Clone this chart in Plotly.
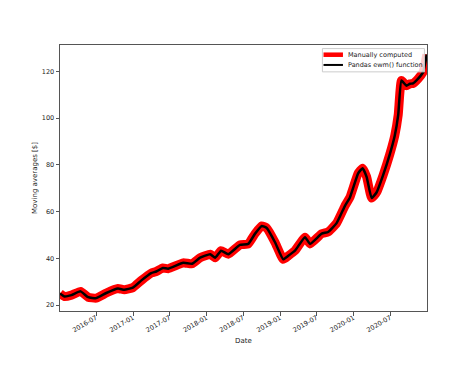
import plotly.graph_objects as go

dates = [
    "2016-01-04", "2016-01-26", "2016-03-01", "2016-04-15", "2016-05-23", "2016-07-02",
    "2016-08-21", "2016-10-18", "2016-11-18", "2016-12-31", "2017-02-10", "2017-04-01",
    "2017-04-26", "2017-05-29", "2017-06-24", "2017-09-07", "2017-10-21", "2017-11-30",
    "2018-01-19", "2018-02-13", "2018-03-14", "2018-04-19", "2018-06-16", "2018-07-27",
    "2018-08-30", "2018-10-02", "2018-10-27", "2018-12-07", "2019-01-17", "2019-02-11",
    "2019-03-16", "2019-05-05", "2019-05-30", "2019-07-27", "2019-08-28", "2019-10-09",
    "2019-11-19", "2019-12-14", "2020-01-24", "2020-02-15", "2020-03-06", "2020-03-31",
    "2020-04-25", "2020-05-27", "2020-06-29", "2020-07-24", "2020-08-10", "2020-08-26",
    "2020-09-20", "2020-10-07", "2020-10-23", "2020-11-17", "2020-12-12", "2020-12-30",
]
manual_ewm = [
    25.0, 23.7, 24.3, 25.9, 23.4, 23.0,
    25.2, 27.1, 26.6, 27.5, 30.5, 33.7,
    34.4, 35.9, 35.6, 38.1, 37.7, 40.3,
    41.8, 40.3, 43.3, 41.8, 45.8, 46.2,
    50.6, 53.9, 53.0, 46.9, 39.6, 41.1,
    43.3, 49.1, 46.2, 50.6, 51.3, 55.1,
    62.4, 66.1, 76.4, 78.6, 74.9, 65.8,
    68.3, 75.6, 84.5, 92.6, 101.4, 116.1,
    113.9, 114.7, 114.9, 116.9, 119.8, 127.2,
]
pandas_ewm = list(manual_ewm)

series_names = ["Manually computed", "Pandas ewm() function"]
tick_dates = ["2016-07-01", "2017-01-01", "2017-07-01", "2018-01-01", "2018-07-01",
              "2019-01-01", "2019-07-01", "2020-01-01", "2020-07-01"]
tick_labels = ["2016-07", "2017-01", "2017-07", "2018-01", "2018-07",
               "2019-01", "2019-07", "2020-01", "2020-07"]
y_ticks = [20, 40, 60, 80, 100, 120]

fig = go.Figure()
fig.add_trace(go.Scatter(
    x=dates, y=manual_ewm, mode="lines", name=series_names[0],
    line=dict(color="red", width=9, shape="spline", smoothing=0.4),
    showlegend=False,
))
fig.add_trace(go.Scatter(
    x=dates, y=pandas_ewm, mode="lines", name=series_names[1],
    line=dict(color="black", width=2.5, shape="spline", smoothing=0.4),
    showlegend=False,
))

# compact matplotlib-style legend (box, swatches, labels) in paper coordinates
fig.add_shape(type="rect", xref="paper", yref="paper", x0=0.715, x1=0.993, y0=0.899, y1=0.9865,
              line=dict(color="#cccccc", width=1), fillcolor="rgba(255,255,255,0.8)", layer="above")
fig.add_shape(type="rect", xref="paper", yref="paper", x0=0.718, x1=0.771, y0=0.955, y1=0.972,
              line=dict(width=0), fillcolor="red", layer="above")
fig.add_shape(type="line", xref="paper", yref="paper", x0=0.718, x1=0.771, y0=0.925, y1=0.925,
              line=dict(color="black", width=2), layer="above")
for name, ypos in zip(series_names, [0.964, 0.924]):
    fig.add_annotation(text=name, xref="paper", yref="paper", x=0.778, y=ypos,
                       xanchor="left", yanchor="middle", showarrow=False,
                       font=dict(family="DejaVu Sans", size=6.5, color="#222"))

# x-axis title placed just under the rotated tick labels
fig.add_annotation(text="Date", xref="paper", yref="paper", x=0.5, y=-0.112,
                   xanchor="center", yanchor="middle", showarrow=False,
                   font=dict(family="DejaVu Sans", size=7, color="#222"))

axis_common = dict(
    showgrid=False, zeroline=False, showline=True, linecolor="#555", linewidth=1,
    mirror=True, ticks="outside", ticklen=3.5, tickcolor="#555",
    tickfont=dict(family="DejaVu Sans", size=6.5, color="#222"),
)
fig.update_layout(
    width=466, height=371,
    margin=dict(l=52, r=47, t=37, b=68),
    paper_bgcolor="white", plot_bgcolor="white",
    font=dict(family="DejaVu Sans", size=7, color="#222"),
    xaxis=dict(
        range=["2016-01-04", "2020-12-31"], tickvals=tick_dates, ticktext=tick_labels,
        tickangle=-30, ticklabelstandoff=-4,
        **axis_common,
    ),
    yaxis=dict(
        range=[17.5, 131.3], tickvals=y_ticks,
        title=dict(text="Moving averages [$]", font=dict(size=7), standoff=3),
        **axis_common,
    ),
    showlegend=False,
)

fig.write_html("out.html")
